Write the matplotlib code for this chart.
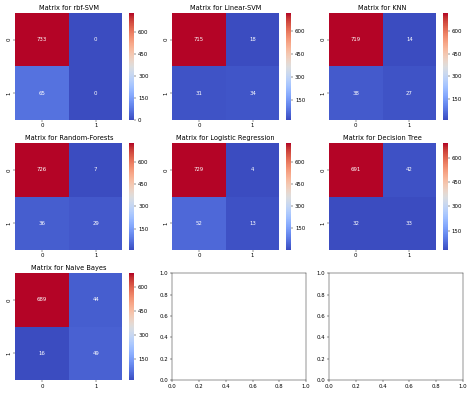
import numpy as np
import matplotlib
matplotlib.use('Agg')
import matplotlib.pyplot as plt
import seaborn as sns
from matplotlib.ticker import MultipleLocator

# confusion matrices
models = ['rbf-SVM', 'Linear-SVM', 'KNN', 'Random-Forests',
          'Logistic Regression', 'Decision Tree', 'Naive Bayes']
cm_rbf_svm = [[733, 0], [65, 0]]
cm_linear_svm = [[715, 18], [31, 34]]
cm_knn = [[719, 14], [38, 27]]
cm_random_forests = [[726, 7], [36, 29]]
cm_logistic = [[729, 4], [52, 13]]
cm_decision_tree = [[691, 42], [32, 33]]
cm_naive_bayes = [[689, 44], [16, 49]]
matrices = [cm_rbf_svm, cm_linear_svm, cm_knn, cm_random_forests,
            cm_logistic, cm_decision_tree, cm_naive_bayes]

plt.rcParams['font.size'] = 10.5

dpi = 37
fig, axes = plt.subplots(3, 3, figsize=(474 / dpi, 395 / dpi), dpi=dpi)
plt.subplots_adjust(left=0.032, right=0.977, top=0.967, bottom=0.038,
                    wspace=0.17, hspace=0.22)

for ax, name, cm in zip(axes.flat, models, matrices):
    sns.heatmap(np.array(cm), annot=True, fmt='d', cmap='coolwarm', ax=ax,
                cbar_kws={'ticks': MultipleLocator(150)})
    ax.set_title('Matrix for ' + name, fontsize=13)

plt.savefig('out.png', dpi=dpi)
